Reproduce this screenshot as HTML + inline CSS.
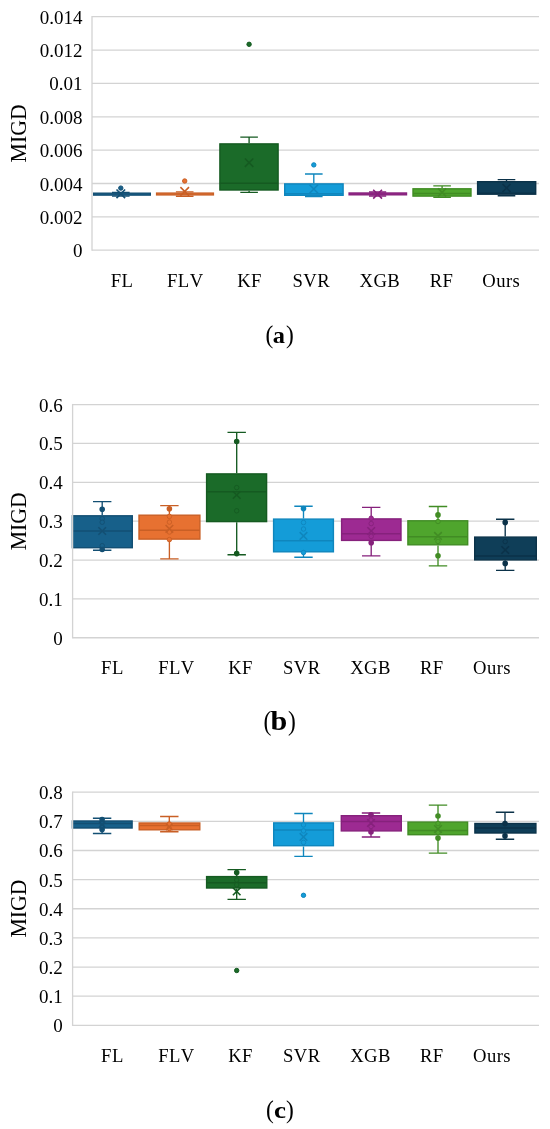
<!DOCTYPE html>
<html lang="en"><head><meta charset="utf-8"><title>MIGD box plots</title>
<style>html,body{margin:0;padding:0;background:#fff}body{width:550px;height:1129px;overflow:hidden}svg{display:block;font-family:"Liberation Serif",serif;font-kerning:none}</style>
</head><body>
<svg width="550" height="1129" viewBox="0 0 550 1129">
<rect width="550" height="1129" fill="#fff"/>
<g stroke="#d3d3d3" stroke-width="1.3" fill="none">
<line x1="92" y1="16.7" x2="539" y2="16.7"/>
<line x1="92" y1="50.06" x2="539" y2="50.06"/>
<line x1="92" y1="83.42" x2="539" y2="83.42"/>
<line x1="92" y1="116.78" x2="539" y2="116.78"/>
<line x1="92" y1="150.14" x2="539" y2="150.14"/>
<line x1="92" y1="183.5" x2="539" y2="183.5"/>
<line x1="92" y1="216.86" x2="539" y2="216.86"/>
<line x1="92" y1="250.22" x2="539" y2="250.22"/>
</g>
<g font-size="19" text-anchor="end" fill="#000">
<text x="82.6" y="23.7">0.014</text>
<text x="82.6" y="57.06">0.012</text>
<text x="82.6" y="90.42">0.01</text>
<text x="82.6" y="123.78">0.008</text>
<text x="82.6" y="157.14">0.006</text>
<text x="82.6" y="190.5">0.004</text>
<text x="82.6" y="223.86">0.002</text>
<text x="82.6" y="257.22">0</text>
</g>
<text font-size="23.5" text-anchor="middle" textLength="58" lengthAdjust="spacingAndGlyphs" fill="#000" transform="translate(25.7 133.4) rotate(-90)">MIGD</text>
<g stroke="#134f73" stroke-width="1.4" fill="#17608a">
<path d="M120.8 192.4V192.5M120.8 195.8V196.1M112 192.4H129.6M112 196.1H129.6" fill="none" stroke-width="1.35"/>
<rect x="93.7" y="193.2" width="56.6" height="1.9"/>
<path d="M116.5 189.5L125.1 198.1M116.5 198.1L125.1 189.5" fill="none" stroke-width="1.6"/>
<circle cx="120.8" cy="188.1" r="2.2" fill="#17608a" stroke="#134f73" stroke-width="1"/>
</g>
<g stroke="#c95f25" stroke-width="1.4" fill="#e77131">
<path d="M184.7 191.9V192.4M184.7 195.6V196.2M175.9 191.9H193.5M175.9 196.2H193.5" fill="none" stroke-width="1.35"/>
<rect x="156.6" y="193.1" width="56.8" height="1.8"/>
<path d="M180.4 187.1L189 195.7M180.4 195.7L189 187.1" fill="none" stroke-width="1.6"/>
<circle cx="184.7" cy="181" r="2.2" fill="#e77131" stroke="#c95f25" stroke-width="1"/>
</g>
<g stroke="#155a21" stroke-width="1.4" fill="#1b6b29">
<path d="M249.1 137.1V143.2M249.1 190.7V192.3M240.3 137.1H257.9M240.3 192.3H257.9" fill="none" stroke-width="1.35"/>
<rect x="219.9" y="143.9" width="58.2" height="46.1"/>
<line x1="219.9" y1="183.2" x2="278.1" y2="183.2" stroke-width="1.5"/>
<path d="M244.9 158.5L253.3 166.9M244.9 166.9L253.3 158.5" fill="none" stroke-width="1.6"/>
<circle cx="249.1" cy="44.3" r="2.2" fill="#1b6b29" stroke="#155a21" stroke-width="1"/>
</g>
<g stroke="#0f86bd" stroke-width="1.4" fill="#149cd8">
<path d="M313.8 174V183.2M313.8 196V196.6M305 174H322.6M305 196.6H322.6" fill="none" stroke-width="1.35"/>
<rect x="284.7" y="183.9" width="58.4" height="11.4"/>
<line x1="284.7" y1="193.8" x2="343.1" y2="193.8" stroke-width="1.5"/>
<path d="M309.6 184.8L318 193.2M309.6 193.2L318 184.8" fill="none" stroke-width="1.6"/>
<circle cx="313.8" cy="164.9" r="2.2" fill="#149cd8" stroke="#0f86bd" stroke-width="1"/>
</g>
<g stroke="#86217c" stroke-width="1.4" fill="#9d2a92">
<path d="M377.6 192V192.3M377.6 195.5V196M369 192H386.2M369 196H386.2" fill="none" stroke-width="1.35"/>
<rect x="349.1" y="193" width="57.4" height="1.8"/>
<path d="M373.2 189.8L382 198.6M373.2 198.6L382 189.8" fill="none" stroke-width="1.6"/>
</g>
<g stroke="#418c24" stroke-width="1.4" fill="#4fa52d">
<path d="M442.1 185.9V188.1M442.1 196.8V197.2M433.3 185.9H450.9M433.3 197.2H450.9" fill="none" stroke-width="1.35"/>
<rect x="413" y="188.8" width="58" height="7.3"/>
<line x1="413" y1="193.6" x2="471" y2="193.6" stroke-width="1.5"/>
<path d="M438.1 188.4L446.1 196.4M438.1 196.4L446.1 188.4" fill="none" stroke-width="1.6"/>
</g>
<g stroke="#0b3249" stroke-width="1.4" fill="#0f3e58">
<path d="M506.5 179.6V181M506.5 194.9V195.7M497.7 179.6H515.3M497.7 195.7H515.3" fill="none" stroke-width="1.35"/>
<rect x="477.6" y="181.7" width="58.1" height="12.5"/>
<line x1="477.6" y1="193.2" x2="535.7" y2="193.2" stroke-width="1.5"/>
<path d="M502.5 184L510.5 192M502.5 192L510.5 184" fill="none" stroke-width="1.6"/>
</g>
<line x1="92" y1="16.05" x2="92" y2="250.87" stroke="#d3d3d3" stroke-width="1.3"/>
<g font-size="18.67" text-anchor="middle" letter-spacing="0.4" fill="#000">
<text x="122" y="286.7">FL</text>
<text x="185.3" y="286.7">FLV</text>
<text x="249.5" y="286.7">KF</text>
<text x="311.3" y="286.7">SVR</text>
<text x="379.9" y="286.7">XGB</text>
<text x="441.6" y="286.7">RF</text>
<text x="501.3" y="286.7">Ours</text>
</g>
<g font-size="23.5" fill="#000">
<text transform="translate(265.6 342.7) scale(1 1.08)">(</text>
<text transform="translate(272.7 342.7) scale(1.04 0.97)" font-weight="bold">a</text>
<text transform="translate(285.9 342.7) scale(1 1.08)">)</text>
</g>
<g stroke="#d3d3d3" stroke-width="1.3" fill="none">
<line x1="72.6" y1="404.6" x2="539" y2="404.6"/>
<line x1="72.6" y1="443.46" x2="539" y2="443.46"/>
<line x1="72.6" y1="482.32" x2="539" y2="482.32"/>
<line x1="72.6" y1="521.18" x2="539" y2="521.18"/>
<line x1="72.6" y1="560.04" x2="539" y2="560.04"/>
<line x1="72.6" y1="598.9" x2="539" y2="598.9"/>
<line x1="72.6" y1="637.76" x2="539" y2="637.76"/>
</g>
<g font-size="19" text-anchor="end" fill="#000">
<text x="62.8" y="411.6">0.6</text>
<text x="62.8" y="450.46">0.5</text>
<text x="62.8" y="489.32">0.4</text>
<text x="62.8" y="528.18">0.3</text>
<text x="62.8" y="567.04">0.2</text>
<text x="62.8" y="605.9">0.1</text>
<text x="62.8" y="644.76">0</text>
</g>
<text font-size="23.5" text-anchor="middle" textLength="58" lengthAdjust="spacingAndGlyphs" fill="#000" transform="translate(25.7 521.3) rotate(-90)">MIGD</text>
<g stroke="#134f73" stroke-width="1.4" fill="#17608a">
<path d="M102.2 501.6V515.1M102.2 548.4V550.2M93 501.6H111.4M93 550.2H111.4" fill="none" stroke-width="1.35"/>
<rect x="72.4" y="515.8" width="59.9" height="31.9"/>
<line x1="72.4" y1="530.9" x2="132.3" y2="530.9" stroke-width="1.5"/>
<circle cx="102.2" cy="518.7" r="2.25" stroke-width="0.9"/>
<circle cx="102.2" cy="522.2" r="2.25" stroke-width="0.9"/>
<circle cx="102.2" cy="545.7" r="2.25" stroke-width="0.9"/>
<path d="M98.4 527.2L106 534.8M98.4 534.8L106 527.2" fill="none" stroke-width="1.6"/>
<circle cx="102.2" cy="509.3" r="2.1" fill="#134f73" stroke="#134f73"/>
<circle cx="102.2" cy="549.5" r="2.1" fill="#134f73" stroke="#134f73"/>
</g>
<g stroke="#c95f25" stroke-width="1.4" fill="#e77131">
<path d="M169.4 505.6V514.5M169.4 539.8V558.8M160.2 505.6H178.6M160.2 558.8H178.6" fill="none" stroke-width="1.35"/>
<rect x="139" y="515.2" width="60.9" height="23.9"/>
<line x1="139" y1="530.2" x2="199.9" y2="530.2" stroke-width="1.5"/>
<circle cx="169.4" cy="516.4" r="2.25" stroke-width="0.9"/>
<circle cx="169.4" cy="522.1" r="2.25" stroke-width="0.9"/>
<circle cx="169.4" cy="532" r="2.25" stroke-width="0.9"/>
<circle cx="169.4" cy="539.6" r="2.25" stroke-width="0.9"/>
<path d="M165.6 525L173.2 532.6M165.6 532.6L173.2 525" fill="none" stroke-width="1.6"/>
<circle cx="169.4" cy="508.8" r="2.1" fill="#c95f25" stroke="#c95f25"/>
</g>
<g stroke="#155a21" stroke-width="1.4" fill="#1b6b29">
<path d="M236.7 432.3V473.2M236.7 522.3V554.7M227.5 432.3H245.9M227.5 554.7H245.9" fill="none" stroke-width="1.35"/>
<rect x="206.6" y="473.9" width="60" height="47.7"/>
<line x1="206.6" y1="491.7" x2="266.6" y2="491.7" stroke-width="1.5"/>
<circle cx="236.7" cy="487.6" r="2.25" stroke-width="0.9"/>
<circle cx="236.7" cy="510.8" r="2.25" stroke-width="0.9"/>
<path d="M232.9 491.2L240.5 498.8M232.9 498.8L240.5 491.2" fill="none" stroke-width="1.6"/>
<circle cx="236.7" cy="441.5" r="2.1" fill="#155a21" stroke="#155a21"/>
<circle cx="236.7" cy="553.6" r="2.1" fill="#155a21" stroke="#155a21"/>
</g>
<g stroke="#0f86bd" stroke-width="1.4" fill="#149cd8">
<path d="M303.5 506.2V518.4M303.5 552.5V557.2M294.3 506.2H312.7M294.3 557.2H312.7" fill="none" stroke-width="1.35"/>
<rect x="273.6" y="519.1" width="59.8" height="32.7"/>
<line x1="273.6" y1="540.8" x2="333.4" y2="540.8" stroke-width="1.5"/>
<circle cx="303.5" cy="522.5" r="2.25" stroke-width="0.9"/>
<circle cx="303.5" cy="529" r="2.25" stroke-width="0.9"/>
<circle cx="303.5" cy="552.5" r="2.25" stroke-width="0.9"/>
<path d="M299.7 532.1L307.3 539.7M299.7 539.7L307.3 532.1" fill="none" stroke-width="1.6"/>
<circle cx="303.5" cy="508.6" r="2.1" fill="#0f86bd" stroke="#0f86bd"/>
</g>
<g stroke="#86217c" stroke-width="1.4" fill="#9d2a92">
<path d="M371.2 507.3V518.2M371.2 541.1V555.8M362 507.3H380.4M362 555.8H380.4" fill="none" stroke-width="1.35"/>
<rect x="341.6" y="518.9" width="59.4" height="21.5"/>
<line x1="341.6" y1="533.7" x2="401" y2="533.7" stroke-width="1.5"/>
<circle cx="371.2" cy="518.2" r="2.25" stroke-width="0.9"/>
<circle cx="371.2" cy="523.6" r="2.25" stroke-width="0.9"/>
<circle cx="371.2" cy="536.4" r="2.25" stroke-width="0.9"/>
<path d="M367.4 527.2L375 534.8M367.4 534.8L375 527.2" fill="none" stroke-width="1.6"/>
<circle cx="371.2" cy="542.7" r="2.1" fill="#86217c" stroke="#86217c"/>
</g>
<g stroke="#418c24" stroke-width="1.4" fill="#4fa52d">
<path d="M438 506.5V520.1M438 545.5V565.9M428.8 506.5H447.2M428.8 565.9H447.2" fill="none" stroke-width="1.35"/>
<rect x="407.9" y="520.8" width="59.8" height="24"/>
<line x1="407.9" y1="536.7" x2="467.7" y2="536.7" stroke-width="1.5"/>
<circle cx="438" cy="521.5" r="2.25" stroke-width="0.9"/>
<circle cx="438" cy="541.4" r="2.25" stroke-width="0.9"/>
<path d="M434.2 532.1L441.8 539.7M434.2 539.7L441.8 532.1" fill="none" stroke-width="1.6"/>
<circle cx="438" cy="514.9" r="2.1" fill="#418c24" stroke="#418c24"/>
<circle cx="438" cy="555.8" r="2.1" fill="#418c24" stroke="#418c24"/>
</g>
<g stroke="#0b3249" stroke-width="1.4" fill="#0f3e58">
<path d="M505.2 519.2V536.4M505.2 560.6V570.4M496 519.2H514.4M496 570.4H514.4" fill="none" stroke-width="1.35"/>
<rect x="474.7" y="537.1" width="61.6" height="22.8"/>
<line x1="474.7" y1="556" x2="536.3" y2="556" stroke-width="1.5"/>
<circle cx="505.2" cy="541.6" r="2.25" stroke-width="0.9"/>
<path d="M501.4 546.2L509 553.8M501.4 553.8L509 546.2" fill="none" stroke-width="1.6"/>
<circle cx="505.2" cy="522.4" r="2.1" fill="#0b3249" stroke="#0b3249"/>
<circle cx="505.2" cy="563.4" r="2.1" fill="#0b3249" stroke="#0b3249"/>
</g>
<line x1="72.6" y1="403.95" x2="72.6" y2="638.41" stroke="#d3d3d3" stroke-width="1.3"/>
<g font-size="18.67" text-anchor="middle" letter-spacing="0.4" fill="#000">
<text x="112.4" y="674.2">FL</text>
<text x="176.4" y="674.2">FLV</text>
<text x="240.5" y="674.2">KF</text>
<text x="301.8" y="674.2">SVR</text>
<text x="370.5" y="674.2">XGB</text>
<text x="431.8" y="674.2">RF</text>
<text x="492" y="674.2">Ours</text>
</g>
<g font-size="23.5" fill="#000">
<text transform="translate(263.4 730.1) scale(1 1.13)">(</text>
<text transform="translate(270.4 730.1) scale(1.28 1.15)" font-weight="bold">b</text>
<text transform="translate(288 730.1) scale(1 1.13)">)</text>
</g>
<g stroke="#d3d3d3" stroke-width="1.3" fill="none">
<line x1="72.6" y1="792.2" x2="539" y2="792.2"/>
<line x1="72.6" y1="821.34" x2="539" y2="821.34"/>
<line x1="72.6" y1="850.48" x2="539" y2="850.48"/>
<line x1="72.6" y1="879.62" x2="539" y2="879.62"/>
<line x1="72.6" y1="908.76" x2="539" y2="908.76"/>
<line x1="72.6" y1="937.9" x2="539" y2="937.9"/>
<line x1="72.6" y1="967.04" x2="539" y2="967.04"/>
<line x1="72.6" y1="996.18" x2="539" y2="996.18"/>
<line x1="72.6" y1="1025.32" x2="539" y2="1025.32"/>
</g>
<g font-size="19" text-anchor="end" fill="#000">
<text x="62.8" y="799.2">0.8</text>
<text x="62.8" y="828.34">0.7</text>
<text x="62.8" y="857.48">0.6</text>
<text x="62.8" y="886.62">0.5</text>
<text x="62.8" y="915.76">0.4</text>
<text x="62.8" y="944.9">0.3</text>
<text x="62.8" y="974.04">0.2</text>
<text x="62.8" y="1003.18">0.1</text>
<text x="62.8" y="1032.32">0</text>
</g>
<text font-size="23.5" text-anchor="middle" textLength="58" lengthAdjust="spacingAndGlyphs" fill="#000" transform="translate(25.7 908.5) rotate(-90)">MIGD</text>
<g stroke="#134f73" stroke-width="1.4" fill="#17608a">
<path d="M102.1 818.2V820.3M102.1 828.7V833.5M92.9 818.2H111.3M92.9 833.5H111.3" fill="none" stroke-width="1.35"/>
<rect x="72.4" y="821" width="59.7" height="7"/>
<line x1="72.4" y1="823.6" x2="132.1" y2="823.6" stroke-width="1.5"/>
<circle cx="102.1" cy="823" r="2.25" stroke-width="0.9"/>
<circle cx="102.1" cy="826.5" r="2.25" stroke-width="0.9"/>
<path d="M99.1 821.6L105.1 827.6M99.1 827.6L105.1 821.6" fill="none" stroke-width="1.6"/>
<circle cx="102.1" cy="819.6" r="2.1" fill="#134f73" stroke="#134f73"/>
<circle cx="102.1" cy="829.6" r="2.1" fill="#134f73" stroke="#134f73"/>
</g>
<g stroke="#c95f25" stroke-width="1.4" fill="#e77131">
<path d="M169.3 816.5V822.3M169.3 830.5V831.7M160.1 816.5H178.5M160.1 831.7H178.5" fill="none" stroke-width="1.35"/>
<rect x="139.2" y="823" width="60.6" height="6.8"/>
<line x1="139.2" y1="825.4" x2="199.8" y2="825.4" stroke-width="1.5"/>
<circle cx="169.3" cy="824" r="2.25" stroke-width="0.9"/>
<circle cx="169.3" cy="828.5" r="2.25" stroke-width="0.9"/>
<path d="M166.1 823.8L172.5 830.2M166.1 830.2L172.5 823.8" fill="none" stroke-width="1.6"/>
</g>
<g stroke="#155a21" stroke-width="1.4" fill="#1b6b29">
<path d="M236.7 869.6V875.9M236.7 888.7V899.4M227.5 869.6H245.9M227.5 899.4H245.9" fill="none" stroke-width="1.35"/>
<rect x="206.6" y="876.6" width="60.2" height="11.4"/>
<line x1="206.6" y1="882.7" x2="266.8" y2="882.7" stroke-width="1.5"/>
<circle cx="236.7" cy="880" r="2.25" stroke-width="0.9"/>
<circle cx="236.7" cy="884.9" r="2.25" stroke-width="0.9"/>
<path d="M232.9 887.6L240.5 895.2M232.9 895.2L240.5 887.6" fill="none" stroke-width="1.6"/>
<circle cx="236.7" cy="872.6" r="2.1" fill="#155a21" stroke="#155a21"/>
<circle cx="236.7" cy="970.5" r="2.2" fill="#1b6b29" stroke="#155a21" stroke-width="1"/>
</g>
<g stroke="#0f86bd" stroke-width="1.4" fill="#149cd8">
<path d="M303.5 813.5V822.2M303.5 846.4V856.3M294.3 813.5H312.7M294.3 856.3H312.7" fill="none" stroke-width="1.35"/>
<rect x="273.7" y="822.9" width="59.7" height="22.8"/>
<line x1="273.7" y1="830.1" x2="333.4" y2="830.1" stroke-width="1.5"/>
<circle cx="303.5" cy="824.9" r="2.25" stroke-width="0.9"/>
<circle cx="303.5" cy="830.9" r="2.25" stroke-width="0.9"/>
<circle cx="303.5" cy="842.4" r="2.25" stroke-width="0.9"/>
<path d="M299.7 833.1L307.3 840.7M299.7 840.7L307.3 833.1" fill="none" stroke-width="1.6"/>
<circle cx="303.5" cy="895.3" r="2.2" fill="#149cd8" stroke="#0f86bd" stroke-width="1"/>
</g>
<g stroke="#86217c" stroke-width="1.4" fill="#9d2a92">
<path d="M371 813V815M371 831.6V837M361.8 813H380.2M361.8 837H380.2" fill="none" stroke-width="1.35"/>
<rect x="341.3" y="815.7" width="60" height="15.2"/>
<line x1="341.3" y1="821.4" x2="401.3" y2="821.4" stroke-width="1.5"/>
<circle cx="371" cy="820" r="2.25" stroke-width="0.9"/>
<circle cx="371" cy="826.5" r="2.25" stroke-width="0.9"/>
<path d="M367.2 819.2L374.8 826.8M367.2 826.8L374.8 819.2" fill="none" stroke-width="1.6"/>
<circle cx="371" cy="814.8" r="2.1" fill="#86217c" stroke="#86217c"/>
<circle cx="371" cy="832" r="2.1" fill="#86217c" stroke="#86217c"/>
</g>
<g stroke="#418c24" stroke-width="1.4" fill="#4fa52d">
<path d="M438 805.1V821.4M438 835.4V853.1M428.8 805.1H447.2M428.8 853.1H447.2" fill="none" stroke-width="1.35"/>
<rect x="408" y="822.1" width="59.6" height="12.6"/>
<line x1="408" y1="830.5" x2="467.6" y2="830.5" stroke-width="1.5"/>
<circle cx="438" cy="823.6" r="2.25" stroke-width="0.9"/>
<circle cx="438" cy="832.5" r="2.25" stroke-width="0.9"/>
<path d="M434.2 825.2L441.8 832.8M434.2 832.8L441.8 825.2" fill="none" stroke-width="1.6"/>
<circle cx="438" cy="816" r="2.1" fill="#418c24" stroke="#418c24"/>
<circle cx="438" cy="838.1" r="2.1" fill="#418c24" stroke="#418c24"/>
</g>
<g stroke="#0b3249" stroke-width="1.4" fill="#0f3e58">
<path d="M505 812.2V822.8M505 833.7V839.2M495.8 812.2H514.2M495.8 839.2H514.2" fill="none" stroke-width="1.35"/>
<rect x="474.9" y="823.5" width="61" height="9.5"/>
<line x1="474.9" y1="828" x2="535.9" y2="828" stroke-width="1.5"/>
<circle cx="505" cy="823.6" r="2.1" fill="#0b3249" stroke="#0b3249"/>
<circle cx="505" cy="835.9" r="2.1" fill="#0b3249" stroke="#0b3249"/>
</g>
<line x1="72.6" y1="791.55" x2="72.6" y2="1025.97" stroke="#d3d3d3" stroke-width="1.3"/>
<g font-size="18.67" text-anchor="middle" letter-spacing="0.4" fill="#000">
<text x="112.4" y="1061.5">FL</text>
<text x="176.4" y="1061.5">FLV</text>
<text x="240.5" y="1061.5">KF</text>
<text x="301.8" y="1061.5">SVR</text>
<text x="370.5" y="1061.5">XGB</text>
<text x="431.8" y="1061.5">RF</text>
<text x="492" y="1061.5">Ours</text>
</g>
<g font-size="23.5" fill="#000">
<text transform="translate(266 1118.4) scale(1 1.07)">(</text>
<text transform="translate(273.9 1118.4) scale(1.15 0.98)" font-weight="bold">c</text>
<text transform="translate(286 1118.4) scale(1 1.07)">)</text>
</g>
</svg>
</body></html>
